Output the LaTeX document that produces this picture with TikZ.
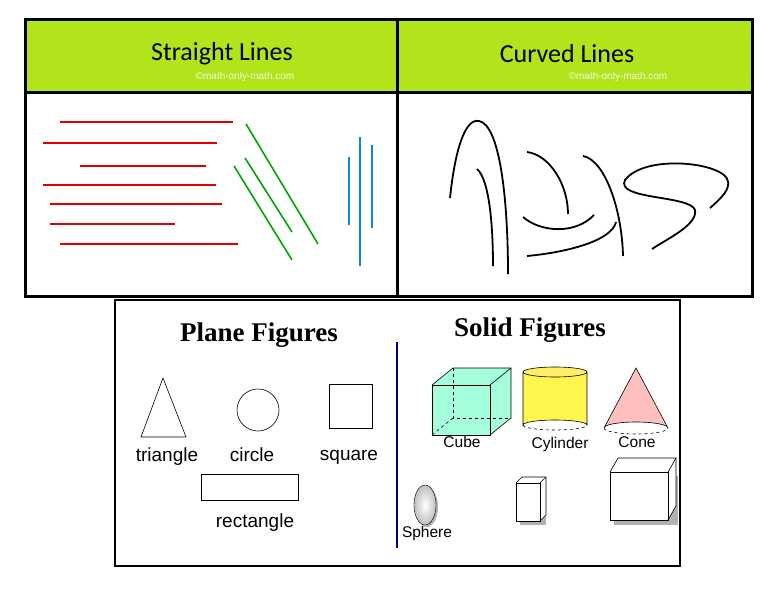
\documentclass[tikz,border=0pt]{standalone}
\usepackage{fontspec}
\setmainfont{Liberation Serif}
\newfontfamily\calib{Carlito}
\newfontfamily\arialf{Liberation Sans}
\definecolor{hdrgreen}{RGB}{178,228,28}
\begin{document}
\begin{tikzpicture}[x=1pt,y=-1pt,
  red/.style={draw=red!90!black,line width=2pt},
  grn/.style={draw=green!65!black,line width=1.6pt},
  blu/.style={draw=cyan!70!blue,line width=1.6pt},
  crv/.style={draw=black,line width=1.8pt},
  hdr/.style={font=\calib\fontsize{26}{28}\selectfont},
  wm/.style={font=\arialf\fontsize{10}{11}\selectfont,text=white!85!hdrgreen},
  ttl/.style={font=\bfseries\fontsize{27}{29}\selectfont},
  lbl/.style={font=\arialf\fontsize{19}{21}\selectfont},
  slbl/.style={font=\arialf\fontsize{15.5}{17}\selectfont},
  fig/.style={draw=black,line width=0.6pt}]
\useasboundingbox (0,0) rectangle (768,594);
\fill[white] (0,0) rectangle (768,594);
% top box
\fill[hdrgreen] (25,20) rectangle (752,92);
\fill[white] (25,92) rectangle (752,296);
\draw[line width=3pt] (25,20) rectangle (752,296);
\draw[line width=3pt] (25,92) -- (752,92);
\draw[line width=3pt] (397,20) -- (397,296);
\node[hdr] (h1) at (222,54) {Straight Lines};
\node[hdr] (h2) at (567,54) {Curved Lines};
\node[wm] (w1) at (245,77) {©math-only-math.com};
\node[wm] (w2) at (618,77) {©math-only-math.com};
% straight lines
\draw[red] (60,122) -- (233,122);
\draw[red] (43,143) -- (217,143);
\draw[red] (80,166) -- (206,166);
\draw[red] (43,185) -- (216,185);
\draw[red] (50,204) -- (222,204);
\draw[red] (50,224) -- (175,224);
\draw[red] (60,244) -- (238,244);
\draw[grn] (246,124) -- (318,244);
\draw[grn] (245,158) -- (292,232);
\draw[grn] (234,166) -- (292,260);
\draw[blu] (360,137) -- (360,266);
\draw[blu] (372,145) -- (372,228);
\draw[blu] (349,157) -- (349,225);
% curved lines
\draw[crv] (450,198) .. controls (455,150) and (465,118) .. (479,121) .. controls (500,125) and (508,200) .. (508,274);
\draw[crv] (477,169) .. controls (490,180) and (493,230) .. (493,266);
\draw[crv] (527,152) .. controls (550,155) and (568,185) .. (568,214);
\draw[crv] (523,217) .. controls (540,232) and (575,235) .. (594,215);
\draw[crv] (583,156) .. controls (605,160) and (622,210) .. (623,256);
\draw[crv] (527,256) .. controls (570,252) and (612,240) .. (616,222);
\draw[crv] (710,208) .. controls (725,195) and (740,180) .. (715,170) .. controls (690,160) and (640,160) .. (625,180) .. controls (615,200) and (690,195) .. (695,210) .. controls (698,225) and (665,240) .. (652,249);
% bottom box
\draw[line width=1.6pt] (115,300) rectangle (680,566);
\draw[line width=1.6pt,draw=blue!50!black] (397,342) -- (397,548);
\node[ttl] (t1) at (259,335) {Plane Figures};
\node[ttl] (t2) at (530,330) {Solid Figures};
% plane figures
\draw[fig] (163,378) -- (186,437) -- (141,437) -- cycle;
\draw[fig] (258,410) circle (21);
\draw[fig] (329,384) rectangle (372,428);
\draw[fig] (201,474) rectangle (298,500);
\node[lbl] (l1) at (167,457) {triangle};
\node[lbl] (l2) at (252,455) {circle};
\node[lbl] (l3) at (349,457) {square};
\node[lbl] (l4) at (255,523) {rectangle};
% cube
\fill[green!40!cyan!35] (432,385) -- (453,368) -- (511,368) -- (511,418) -- (490,435) -- (432,435) -- cycle;
\draw[fig,dashed] (453,368) -- (453,418) -- (511,418);
\draw[fig,dashed] (453,418) -- (432,435);
\draw[fig] (432,385) rectangle (490,435);
\draw[fig] (432,385) -- (453,368) -- (511,368) -- (511,418) -- (490,435);
\draw[fig] (490,385) -- (511,368);
\node[slbl] (c1) at (462,442) {Cube};
% cylinder
\fill[yellow!70] (523,372) -- (523,425) arc (180:0:32 and -5) -- (587,372) -- cycle;
\fill[yellow!85!orange!60] (555,372) ellipse (32 and 5);
\draw[fig] (555,372) ellipse (32 and 5);
\draw[fig] (523,372) -- (523,425) arc (180:0:32 and -5) -- (587,372);
\draw[fig,dashed] (523,425) arc (180:360:32 and -5);
\node[slbl] (c2) at (560,444) {Cylinder};
% cone
\fill[red!25] (636,368) -- (604,428) arc (180:0:32 and -6) -- cycle;
\draw[fig] (636,368) -- (604,428) arc (180:0:32 and -6) -- cycle;
\draw[fig,dashed] (604,428) arc (180:360:32 and -6);
\node[slbl] (c3) at (637,442) {Cone};
% sphere
\fill[gray!60] (427,507) ellipse (11 and 20);
\shade[inner color=white,outer color=gray!50,draw=black] (425,505) ellipse (11 and 20);
\node[slbl] (c4) at (427,533) {Sphere};
% small box
\fill[gray!60] (520,487) rectangle (546,525);
\fill[white] (516,483) -- (522,477) -- (546,477) -- (546,515) -- (540,521) -- (516,521) -- cycle;
\draw[fig] (516,483) rectangle (540,521);
\draw[fig] (516,483) -- (522,477) -- (546,477) -- (546,515) -- (540,521);
\draw[fig] (540,483) -- (546,477);
% large box
\fill[gray!60] (614,476) rectangle (678,525);
\fill[white] (610,472) -- (618,458) -- (676,458) -- (676,506) -- (668,520) -- (610,520) -- cycle;
\draw[fig] (610,472) rectangle (668,520);
\draw[fig] (610,472) -- (618,458) -- (676,458) -- (676,506) -- (668,520);
\draw[fig] (668,472) -- (676,458);
\end{tikzpicture}
\end{document}
